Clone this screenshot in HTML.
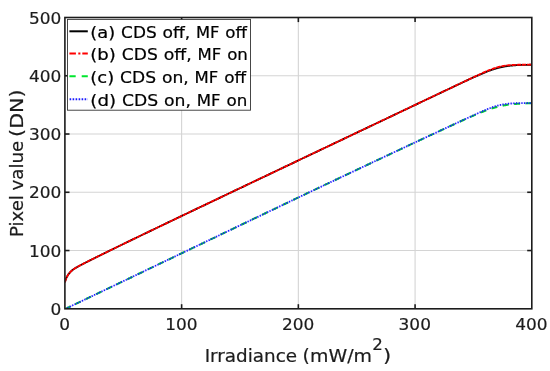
<!DOCTYPE html>
<html><head><meta charset="utf-8"><title>Pixel value vs irradiance</title>
<style>
html,body{margin:0;padding:0;background:#fff;}
body{width:550px;height:371px;overflow:hidden;}
svg{display:block;}
text{font-family:"DejaVu Sans", "Liberation Sans", sans-serif;fill:#1c1c1c;stroke:#1c1c1c;stroke-width:0.2px;}
.tick{font-size:16px;}
.lab{font-size:17.6px;}
.leg{font-size:15.2px;fill:#000;stroke:#000;}
</style></head><body>
<svg width="550" height="371" viewBox="0 0 550 371">
<rect width="550" height="371" fill="#fff"/>
<g stroke="#d4d4d4" stroke-width="1.1" fill="none"><line x1="181.62" y1="17.5" x2="181.62" y2="308.8"/><line x1="298.35" y1="17.5" x2="298.35" y2="308.8"/><line x1="415.08" y1="17.5" x2="415.08" y2="308.8"/><line x1="64.9" y1="250.54" x2="531.8" y2="250.54"/><line x1="64.9" y1="192.28" x2="531.8" y2="192.28"/><line x1="64.9" y1="134.02" x2="531.8" y2="134.02"/><line x1="64.9" y1="75.76" x2="531.8" y2="75.76"/></g>
<clipPath id="cp"><rect x="64.9" y="17.5" width="466.9" height="291.3"/></clipPath>
<g fill="none" stroke-width="2" stroke-linejoin="round" clip-path="url(#cp)">
<path d="M64.90,282.13 L65.13,281.38 L65.37,280.68 L65.60,280.02 L65.83,279.40 L66.07,278.81 L66.30,278.25 L66.53,277.73 L66.77,277.23 L67.00,276.76 L67.23,276.31 L67.47,275.88 L67.70,275.48 L67.93,275.10 L68.17,274.73 L68.40,274.38 L68.64,274.05 L68.87,273.73 L69.10,273.42 L69.34,273.13 L69.57,272.85 L69.80,272.58 L70.04,272.32 L70.27,272.08 L70.50,271.84 L70.74,271.60 L70.97,271.38 L71.20,271.16 L71.44,270.95 L71.67,270.75 L71.90,270.55 L72.14,270.36 L72.37,270.17 L72.60,269.99 L72.84,269.81 L73.07,269.64 L73.30,269.47 L73.54,269.30 L73.77,269.14 L74.00,268.98 L74.24,268.82 L74.47,268.67 L74.70,268.51 L74.94,268.36 L75.17,268.22 L75.41,268.07 L75.64,267.93 L75.87,267.78 L76.11,267.64 L76.34,267.51 L76.57,267.37 L76.81,267.23 L77.04,267.10 L77.27,266.96 L77.51,266.83 L77.74,266.70 L77.97,266.57 L78.21,266.44 L78.44,266.31 L78.67,266.18 L78.91,266.06 L79.14,265.93 L79.37,265.80 L79.61,265.68 L79.84,265.55 L80.07,265.43 L80.31,265.31 L80.54,265.18 L80.77,265.06 L81.01,264.94 L81.24,264.82 L81.47,264.69 L81.71,264.57 L81.94,264.45 L82.18,264.33 L82.41,264.21 L82.64,264.09 L82.88,263.97 L83.11,263.85 L83.34,263.73 L83.58,263.61 L83.81,263.49 L84.04,263.37 L84.28,263.25 L84.51,263.13 L84.74,263.01 L84.98,262.90 L85.21,262.78 L85.44,262.66 L85.68,262.54 L85.91,262.42 L86.14,262.31 L86.38,262.19 L86.61,262.07 L86.84,261.95 L87.08,261.84 L87.31,261.72 L87.54,261.60 L87.78,261.48 L88.01,261.37 L88.25,261.25 L88.48,261.13 L88.71,261.01 L88.95,260.90 L89.18,260.78 L89.41,260.66 L89.65,260.55 L89.88,260.43 L90.11,260.31 L90.35,260.20 L90.58,260.08 L90.81,259.96 L91.05,259.85 L91.28,259.73 L91.51,259.62 L91.75,259.50 L91.98,259.38 L92.21,259.27 L92.45,259.15 L92.68,259.03 L92.91,258.92 L93.15,258.80 L93.38,258.69 L93.61,258.57 L93.85,258.45 L94.08,258.34 L94.31,258.22 L94.55,258.11 L94.78,257.99 L95.02,257.88 L95.25,257.76 L95.48,257.64 L95.72,257.53 L95.95,257.41 L96.18,257.30 L96.42,257.18 L96.65,257.07 L96.88,256.95 L97.12,256.83 L97.35,256.72 L97.58,256.60 L97.82,256.49 L98.05,256.37 L98.28,256.26 L98.52,256.14 L98.75,256.03 L98.98,255.91 L99.22,255.80 L99.45,255.68 L99.68,255.57 L99.92,255.45 L100.15,255.34 L100.38,255.22 L100.62,255.10 L100.85,254.99 L101.08,254.87 L101.32,254.76 L101.55,254.64 L101.79,254.53 L102.02,254.41 L102.25,254.30 L102.49,254.18 L102.72,254.07 L102.95,253.96 L103.19,253.84 L103.42,253.73 L103.65,253.61 L103.89,253.50 L104.12,253.38 L104.35,253.27 L104.59,253.15 L104.82,253.04 L105.05,252.92 L105.29,252.81 L105.52,252.69 L105.75,252.58 L105.99,252.46 L106.22,252.35 L106.45,252.23 L106.69,252.12 L106.92,252.01 L107.15,251.89 L107.39,251.78 L107.62,251.66 L107.85,251.55 L108.09,251.43 L108.32,251.32 L108.56,251.20 L108.79,251.09 L109.02,250.98 L109.26,250.86 L109.49,250.75 L109.72,250.63 L109.96,250.52 L110.19,250.40 L110.42,250.29 L110.66,250.18 L110.89,250.06 L111.12,249.95 L111.36,249.83 L111.59,249.72 L112.17,249.43 L115.70,247.71 L119.24,245.99 L122.77,244.28 L126.30,242.56 L129.83,240.85 L133.36,239.14 L136.89,237.44 L140.42,235.74 L143.95,234.04 L147.49,232.34 L151.02,230.64 L154.55,228.94 L158.08,227.25 L161.61,225.56 L165.14,223.87 L168.67,222.18 L172.20,220.49 L175.74,218.80 L179.27,217.11 L182.80,215.42 L186.33,213.74 L189.86,212.05 L193.39,210.37 L196.92,208.68 L200.45,207.00 L203.99,205.32 L207.52,203.63 L211.05,201.95 L214.58,200.27 L218.11,198.59 L221.64,196.91 L225.17,195.23 L228.70,193.55 L232.24,191.86 L235.77,190.18 L239.30,188.50 L242.83,186.82 L246.36,185.14 L249.89,183.47 L253.42,181.79 L256.95,180.11 L260.49,178.43 L264.02,176.75 L267.55,175.07 L271.08,173.39 L274.61,171.71 L278.14,170.03 L281.67,168.35 L285.20,166.68 L288.73,165.00 L292.27,163.32 L295.80,161.64 L299.33,159.96 L302.86,158.28 L306.39,156.60 L309.92,154.93 L313.45,153.25 L316.98,151.57 L320.52,149.89 L324.05,148.21 L327.58,146.54 L331.11,144.86 L334.64,143.18 L338.17,141.50 L341.70,139.82 L345.23,138.14 L348.77,136.47 L352.30,134.79 L355.83,133.11 L359.36,131.43 L362.89,129.75 L366.42,128.08 L369.95,126.40 L373.48,124.72 L377.02,123.04 L380.55,121.36 L384.08,119.69 L387.61,118.01 L391.14,116.33 L394.67,114.65 L398.20,112.97 L401.73,111.30 L405.27,109.62 L408.80,107.94 L412.33,106.26 L415.86,104.58 L419.39,102.91 L422.92,101.23 L426.45,99.55 L429.98,97.87 L433.52,96.20 L437.05,94.52 L440.58,92.84 L444.11,91.17 L447.64,89.49 L451.17,87.82 L454.70,86.15 L458.23,84.48 L461.76,82.82 L462.35,82.55 L462.93,82.27 L463.52,82.00 L464.10,81.72 L464.68,81.45 L465.27,81.18 L465.85,80.91 L466.43,80.63 L467.02,80.36 L467.60,80.09 L468.18,79.82 L468.77,79.55 L469.35,79.28 L469.94,79.01 L470.52,78.74 L471.10,78.47 L471.69,78.21 L472.27,77.94 L472.85,77.67 L473.44,77.41 L474.02,77.14 L474.60,76.88 L475.19,76.62 L475.77,76.35 L476.36,76.09 L476.94,75.83 L477.52,75.57 L478.11,75.32 L478.69,75.06 L479.27,74.80 L479.86,74.55 L480.44,74.30 L481.02,74.05 L481.61,73.80 L482.19,73.55 L482.78,73.31 L483.36,73.06 L483.94,72.82 L484.53,72.58 L485.11,72.35 L485.69,72.11 L486.28,71.88 L486.86,71.65 L487.44,71.43 L488.03,71.20 L488.61,70.98 L489.20,70.77 L489.78,70.55 L490.36,70.34 L490.95,70.13 L491.53,69.93 L492.11,69.73 L492.70,69.54 L493.28,69.34 L493.86,69.16 L494.45,68.97 L495.03,68.79 L495.62,68.62 L496.20,68.45 L496.78,68.28 L497.37,68.12 L497.95,67.96 L498.53,67.81 L499.12,67.66 L499.70,67.52 L500.28,67.38 L500.87,67.25 L501.45,67.12 L502.04,67.00 L502.62,66.88 L503.20,66.76 L503.79,66.65 L504.37,66.55 L504.95,66.45 L505.54,66.35 L506.12,66.26 L506.70,66.17 L507.29,66.08 L507.87,66.00 L508.46,65.92 L509.04,65.85 L509.62,65.78 L510.21,65.72 L510.79,65.65 L511.37,65.59 L511.96,65.54 L512.54,65.48 L513.12,65.43 L513.71,65.39 L514.29,65.34 L514.87,65.30 L515.46,65.26 L516.04,65.22 L516.63,65.19 L517.21,65.15 L517.79,65.12 L518.38,65.09 L518.96,65.06 L519.54,65.04 L520.13,65.01 L520.71,64.99 L521.29,64.97 L521.88,64.95 L522.46,64.93 L523.05,64.91 L523.63,64.89 L524.21,64.87 L524.80,64.86 L525.38,64.85 L525.96,64.83 L526.55,64.82 L527.13,64.81 L527.71,64.80 L528.30,64.79 L528.88,64.78 L529.47,64.77 L530.05,64.76 L530.63,64.75 L531.22,64.75 L531.80,64.74" stroke="#000" stroke-width="1.8"/>
<path d="M64.90,282.13 L65.13,281.38 L65.37,280.68 L65.60,280.02 L65.83,279.40 L66.07,278.81 L66.30,278.25 L66.53,277.73 L66.77,277.23 L67.00,276.76 L67.23,276.31 L67.47,275.88 L67.70,275.48 L67.93,275.10 L68.17,274.73 L68.40,274.38 L68.64,274.05 L68.87,273.73 L69.10,273.42 L69.34,273.13 L69.57,272.85 L69.80,272.58 L70.04,272.32 L70.27,272.08 L70.50,271.84 L70.74,271.60 L70.97,271.38 L71.20,271.16 L71.44,270.95 L71.67,270.75 L71.90,270.55 L72.14,270.36 L72.37,270.17 L72.60,269.99 L72.84,269.81 L73.07,269.64 L73.30,269.47 L73.54,269.30 L73.77,269.14 L74.00,268.98 L74.24,268.82 L74.47,268.67 L74.70,268.51 L74.94,268.36 L75.17,268.22 L75.41,268.07 L75.64,267.93 L75.87,267.78 L76.11,267.64 L76.34,267.51 L76.57,267.37 L76.81,267.23 L77.04,267.10 L77.27,266.96 L77.51,266.83 L77.74,266.70 L77.97,266.57 L78.21,266.44 L78.44,266.31 L78.67,266.18 L78.91,266.06 L79.14,265.93 L79.37,265.80 L79.61,265.68 L79.84,265.55 L80.07,265.43 L80.31,265.31 L80.54,265.18 L80.77,265.06 L81.01,264.94 L81.24,264.82 L81.47,264.69 L81.71,264.57 L81.94,264.45 L82.18,264.33 L82.41,264.21 L82.64,264.09 L82.88,263.97 L83.11,263.85 L83.34,263.73 L83.58,263.61 L83.81,263.49 L84.04,263.37 L84.28,263.25 L84.51,263.13 L84.74,263.01 L84.98,262.90 L85.21,262.78 L85.44,262.66 L85.68,262.54 L85.91,262.42 L86.14,262.31 L86.38,262.19 L86.61,262.07 L86.84,261.95 L87.08,261.84 L87.31,261.72 L87.54,261.60 L87.78,261.48 L88.01,261.37 L88.25,261.25 L88.48,261.13 L88.71,261.01 L88.95,260.90 L89.18,260.78 L89.41,260.66 L89.65,260.55 L89.88,260.43 L90.11,260.31 L90.35,260.20 L90.58,260.08 L90.81,259.96 L91.05,259.85 L91.28,259.73 L91.51,259.62 L91.75,259.50 L91.98,259.38 L92.21,259.27 L92.45,259.15 L92.68,259.03 L92.91,258.92 L93.15,258.80 L93.38,258.69 L93.61,258.57 L93.85,258.45 L94.08,258.34 L94.31,258.22 L94.55,258.11 L94.78,257.99 L95.02,257.88 L95.25,257.76 L95.48,257.64 L95.72,257.53 L95.95,257.41 L96.18,257.30 L96.42,257.18 L96.65,257.07 L96.88,256.95 L97.12,256.83 L97.35,256.72 L97.58,256.60 L97.82,256.49 L98.05,256.37 L98.28,256.26 L98.52,256.14 L98.75,256.03 L98.98,255.91 L99.22,255.80 L99.45,255.68 L99.68,255.57 L99.92,255.45 L100.15,255.34 L100.38,255.22 L100.62,255.10 L100.85,254.99 L101.08,254.87 L101.32,254.76 L101.55,254.64 L101.79,254.53 L102.02,254.41 L102.25,254.30 L102.49,254.18 L102.72,254.07 L102.95,253.96 L103.19,253.84 L103.42,253.73 L103.65,253.61 L103.89,253.50 L104.12,253.38 L104.35,253.27 L104.59,253.15 L104.82,253.04 L105.05,252.92 L105.29,252.81 L105.52,252.69 L105.75,252.58 L105.99,252.46 L106.22,252.35 L106.45,252.23 L106.69,252.12 L106.92,252.01 L107.15,251.89 L107.39,251.78 L107.62,251.66 L107.85,251.55 L108.09,251.43 L108.32,251.32 L108.56,251.20 L108.79,251.09 L109.02,250.98 L109.26,250.86 L109.49,250.75 L109.72,250.63 L109.96,250.52 L110.19,250.40 L110.42,250.29 L110.66,250.18 L110.89,250.06 L111.12,249.95 L111.36,249.83 L111.59,249.72 L112.17,249.43 L115.70,247.71 L119.24,245.99 L122.77,244.28 L126.30,242.56 L129.83,240.85 L133.36,239.14 L136.89,237.44 L140.42,235.74 L143.95,234.04 L147.49,232.34 L151.02,230.64 L154.55,228.94 L158.08,227.25 L161.61,225.56 L165.14,223.87 L168.67,222.18 L172.20,220.49 L175.74,218.80 L179.27,217.11 L182.80,215.42 L186.33,213.74 L189.86,212.05 L193.39,210.37 L196.92,208.68 L200.45,207.00 L203.99,205.32 L207.52,203.63 L211.05,201.95 L214.58,200.27 L218.11,198.59 L221.64,196.91 L225.17,195.23 L228.70,193.55 L232.24,191.86 L235.77,190.18 L239.30,188.50 L242.83,186.82 L246.36,185.14 L249.89,183.47 L253.42,181.79 L256.95,180.11 L260.49,178.43 L264.02,176.75 L267.55,175.07 L271.08,173.39 L274.61,171.71 L278.14,170.03 L281.67,168.35 L285.20,166.68 L288.73,165.00 L292.27,163.32 L295.80,161.64 L299.33,159.96 L302.86,158.28 L306.39,156.60 L309.92,154.93 L313.45,153.25 L316.98,151.57 L320.52,149.89 L324.05,148.21 L327.58,146.54 L331.11,144.86 L334.64,143.18 L338.17,141.50 L341.70,139.82 L345.23,138.14 L348.77,136.47 L352.30,134.79 L355.83,133.11 L359.36,131.43 L362.89,129.75 L366.42,128.08 L369.95,126.40 L373.48,124.72 L377.02,123.04 L380.55,121.36 L384.08,119.69 L387.61,118.01 L391.14,116.33 L394.67,114.65 L398.20,112.97 L401.73,111.30 L405.27,109.62 L408.80,107.94 L412.33,106.26 L415.86,104.58 L419.39,102.91 L422.92,101.23 L426.45,99.55 L429.98,97.87 L433.52,96.20 L437.05,94.52 L440.58,92.84 L444.11,91.16 L447.64,89.48 L451.17,87.81 L454.70,86.13 L458.23,84.45 L461.76,82.78 L462.35,82.50 L462.93,82.22 L463.52,81.95 L464.10,81.67 L464.68,81.39 L465.27,81.12 L465.85,80.84 L466.43,80.57 L467.02,80.29 L467.60,80.01 L468.18,79.74 L468.77,79.46 L469.35,79.19 L469.94,78.91 L470.52,78.64 L471.10,78.36 L471.69,78.09 L472.27,77.81 L472.85,77.54 L473.44,77.26 L474.02,76.99 L474.60,76.72 L475.19,76.44 L475.77,76.17 L476.36,75.90 L476.94,75.63 L477.52,75.36 L478.11,75.09 L478.69,74.82 L479.27,74.55 L479.86,74.28 L480.44,74.02 L481.02,73.75 L481.61,73.49 L482.19,73.22 L482.78,72.96 L483.36,72.70 L483.94,72.44 L484.53,72.18 L485.11,71.93 L485.69,71.67 L486.28,71.42 L486.86,71.17 L487.44,70.93 L488.03,70.68 L488.61,70.44 L489.20,70.20 L489.78,69.97 L490.36,69.74 L490.95,69.51 L491.53,69.29 L492.11,69.07 L492.70,68.86 L493.28,68.65 L493.86,68.44 L494.45,68.24 L495.03,68.05 L495.62,67.86 L496.20,67.68 L496.78,67.50 L497.37,67.33 L497.95,67.17 L498.53,67.01 L499.12,66.86 L499.70,66.71 L500.28,66.58 L500.87,66.44 L501.45,66.32 L502.04,66.20 L502.62,66.09 L503.20,65.98 L503.79,65.88 L504.37,65.79 L504.95,65.70 L505.54,65.62 L506.12,65.54 L506.70,65.47 L507.29,65.41 L507.87,65.35 L508.46,65.29 L509.04,65.23 L509.62,65.19 L510.21,65.14 L510.79,65.10 L511.37,65.06 L511.96,65.02 L512.54,64.99 L513.12,64.96 L513.71,64.93 L514.29,64.91 L514.87,64.88 L515.46,64.86 L516.04,64.84 L516.63,64.83 L517.21,64.81 L517.79,64.79 L518.38,64.78 L518.96,64.77 L519.54,64.76 L520.13,64.75 L520.71,64.74 L521.29,64.73 L521.88,64.72 L522.46,64.71 L523.05,64.71 L523.63,64.70 L524.21,64.70 L524.80,64.69 L525.38,64.69 L525.96,64.68 L526.55,64.68 L527.13,64.68 L527.71,64.67 L528.30,64.67 L528.88,64.67 L529.47,64.66 L530.05,64.66 L530.63,64.66 L531.22,64.66 L531.80,64.66" stroke="#f00" stroke-dasharray="4.3 0.8" stroke-width="1.85"/>
<path d="M64.90,309.10 L65.13,308.99 L65.37,308.88 L65.60,308.77 L65.83,308.65 L66.07,308.54 L66.30,308.43 L66.53,308.32 L66.77,308.21 L67.00,308.10 L67.23,307.98 L67.47,307.87 L67.70,307.76 L67.93,307.65 L68.17,307.54 L68.40,307.43 L68.64,307.31 L68.87,307.20 L69.10,307.09 L69.34,306.98 L69.57,306.87 L69.80,306.76 L70.04,306.64 L70.27,306.53 L70.50,306.42 L70.74,306.31 L70.97,306.20 L71.20,306.09 L71.44,305.97 L71.67,305.86 L71.90,305.75 L72.14,305.64 L72.37,305.53 L72.60,305.42 L72.84,305.30 L73.07,305.19 L73.30,305.08 L73.54,304.97 L73.77,304.86 L74.00,304.75 L74.24,304.63 L74.47,304.52 L74.70,304.41 L74.94,304.30 L75.17,304.19 L75.41,304.08 L75.64,303.97 L75.87,303.85 L76.11,303.74 L76.34,303.63 L76.57,303.52 L76.81,303.41 L77.04,303.30 L77.27,303.18 L77.51,303.07 L77.74,302.96 L77.97,302.85 L78.21,302.74 L78.44,302.63 L78.67,302.51 L78.91,302.40 L79.14,302.29 L79.37,302.18 L79.61,302.07 L79.84,301.96 L80.07,301.84 L80.31,301.73 L80.54,301.62 L80.77,301.51 L81.01,301.40 L81.24,301.29 L81.47,301.17 L81.71,301.06 L81.94,300.95 L82.18,300.84 L82.41,300.73 L82.64,300.62 L82.88,300.50 L83.11,300.39 L83.34,300.28 L83.58,300.17 L83.81,300.06 L84.04,299.95 L84.28,299.84 L84.51,299.72 L84.74,299.61 L84.98,299.50 L85.21,299.39 L85.44,299.28 L85.68,299.17 L85.91,299.05 L86.14,298.94 L86.38,298.83 L86.61,298.72 L86.84,298.61 L87.08,298.50 L87.31,298.38 L87.54,298.27 L87.78,298.16 L88.01,298.05 L88.25,297.94 L88.48,297.83 L88.71,297.71 L88.95,297.60 L89.18,297.49 L89.41,297.38 L89.65,297.27 L89.88,297.16 L90.11,297.04 L90.35,296.93 L90.58,296.82 L90.81,296.71 L91.05,296.60 L91.28,296.49 L91.51,296.37 L91.75,296.26 L91.98,296.15 L92.21,296.04 L92.45,295.93 L92.68,295.82 L92.91,295.70 L93.15,295.59 L93.38,295.48 L93.61,295.37 L93.85,295.26 L94.08,295.15 L94.31,295.04 L94.55,294.92 L94.78,294.81 L95.02,294.70 L95.25,294.59 L95.48,294.48 L95.72,294.37 L95.95,294.25 L96.18,294.14 L96.42,294.03 L96.65,293.92 L96.88,293.81 L97.12,293.70 L97.35,293.58 L97.58,293.47 L97.82,293.36 L98.05,293.25 L98.28,293.14 L98.52,293.03 L98.75,292.91 L98.98,292.80 L99.22,292.69 L99.45,292.58 L99.68,292.47 L99.92,292.36 L100.15,292.24 L100.38,292.13 L100.62,292.02 L100.85,291.91 L101.08,291.80 L101.32,291.69 L101.55,291.57 L101.79,291.46 L102.02,291.35 L102.25,291.24 L102.49,291.13 L102.72,291.02 L102.95,290.90 L103.19,290.79 L103.42,290.68 L103.65,290.57 L103.89,290.46 L104.12,290.35 L104.35,290.24 L104.59,290.12 L104.82,290.01 L105.05,289.90 L105.29,289.79 L105.52,289.68 L105.75,289.57 L105.99,289.45 L106.22,289.34 L106.45,289.23 L106.69,289.12 L106.92,289.01 L107.15,288.90 L107.39,288.78 L107.62,288.67 L107.85,288.56 L108.09,288.45 L108.32,288.34 L108.56,288.23 L108.79,288.11 L109.02,288.00 L109.26,287.89 L109.49,287.78 L109.72,287.67 L109.96,287.56 L110.19,287.44 L110.42,287.33 L110.66,287.22 L110.89,287.11 L111.12,287.00 L111.36,286.89 L111.59,286.77 L112.17,286.50 L115.70,284.81 L119.24,283.12 L122.77,281.43 L126.30,279.74 L129.83,278.05 L133.36,276.36 L136.89,274.68 L140.42,272.99 L143.95,271.30 L147.49,269.61 L151.02,267.92 L154.55,266.23 L158.08,264.55 L161.61,262.86 L165.14,261.17 L168.67,259.48 L172.20,257.79 L175.74,256.10 L179.27,254.41 L182.80,252.73 L186.33,251.04 L189.86,249.35 L193.39,247.66 L196.92,245.97 L200.45,244.28 L203.99,242.60 L207.52,240.91 L211.05,239.22 L214.58,237.53 L218.11,235.84 L221.64,234.15 L225.17,232.46 L228.70,230.78 L232.24,229.09 L235.77,227.40 L239.30,225.71 L242.83,224.02 L246.36,222.33 L249.89,220.64 L253.42,218.96 L256.95,217.27 L260.49,215.58 L264.02,213.89 L267.55,212.20 L271.08,210.51 L274.61,208.83 L278.14,207.14 L281.67,205.45 L285.20,203.76 L288.73,202.08 L292.27,200.39 L295.80,198.71 L299.33,197.03 L302.86,195.35 L306.39,193.67 L309.92,191.99 L313.45,190.31 L316.98,188.63 L320.52,186.95 L324.05,185.28 L327.58,183.60 L331.11,181.93 L334.64,180.26 L338.17,178.59 L341.70,176.92 L345.23,175.25 L348.77,173.58 L352.30,171.91 L355.83,170.24 L359.36,168.58 L362.89,166.91 L366.42,165.25 L369.95,163.58 L373.48,161.92 L377.02,160.26 L380.55,158.60 L384.08,156.94 L387.61,155.28 L391.14,153.62 L394.67,151.97 L398.20,150.31 L401.73,148.66 L405.27,147.00 L408.80,145.35 L412.33,143.70 L415.86,142.05 L419.39,140.40 L422.92,138.75 L426.45,137.11 L429.98,135.46 L433.52,133.82 L437.05,132.17 L440.58,130.53 L444.11,128.90 L447.64,127.26 L451.17,125.63 L454.70,124.01 L458.23,122.39 L461.76,120.78 L462.35,120.52 L462.93,120.25 L463.52,119.99 L464.10,119.73 L464.68,119.46 L465.27,119.20 L465.85,118.94 L466.43,118.68 L467.02,118.42 L467.60,118.16 L468.18,117.90 L468.77,117.64 L469.35,117.38 L469.94,117.12 L470.52,116.87 L471.10,116.61 L471.69,116.36 L472.27,116.10 L472.85,115.85 L473.44,115.60 L474.02,115.34 L474.60,115.09 L475.19,114.84 L475.77,114.60 L476.36,114.35 L476.94,114.10 L477.52,113.86 L478.11,113.62 L478.69,113.38 L479.27,113.14 L479.86,112.90 L480.44,112.66 L481.02,112.43 L481.61,112.19 L482.19,111.96 L482.78,111.73 L483.36,111.51 L483.94,111.28 L484.53,111.06 L485.11,110.84 L485.69,110.62 L486.28,110.41 L486.86,110.19 L487.44,109.98 L488.03,109.78 L488.61,109.57 L489.20,109.37 L489.78,109.17 L490.36,108.97 L490.95,108.78 L491.53,108.59 L492.11,108.41 L492.70,108.22 L493.28,108.05 L493.86,107.87 L494.45,107.70 L495.03,107.53 L495.62,107.36 L496.20,107.20 L496.78,107.05 L497.37,106.89 L497.95,106.74 L498.53,106.60 L499.12,106.46 L499.70,106.32 L500.28,106.18 L500.87,106.05 L501.45,105.93 L502.04,105.80 L502.62,105.69 L503.20,105.57 L503.79,105.46 L504.37,105.35 L504.95,105.25 L505.54,105.15 L506.12,105.05 L506.70,104.96 L507.29,104.87 L507.87,104.79 L508.46,104.70 L509.04,104.62 L509.62,104.55 L510.21,104.48 L510.79,104.41 L511.37,104.34 L511.96,104.27 L512.54,104.21 L513.12,104.15 L513.71,104.10 L514.29,104.04 L514.87,103.99 L515.46,103.94 L516.04,103.90 L516.63,103.85 L517.21,103.81 L517.79,103.77 L518.38,103.73 L518.96,103.70 L519.54,103.66 L520.13,103.63 L520.71,103.60 L521.29,103.57 L521.88,103.54 L522.46,103.51 L523.05,103.49 L523.63,103.46 L524.21,103.44 L524.80,103.42 L525.38,103.40 L525.96,103.38 L526.55,103.36 L527.13,103.34 L527.71,103.33 L528.30,103.31 L528.88,103.29 L529.47,103.28 L530.05,103.27 L530.63,103.25 L531.22,103.24 L531.80,103.23" stroke="#00d030" stroke-dasharray="6 5.5" stroke-width="2"/>
<path d="M64.90,309.10 L65.13,308.99 L65.37,308.88 L65.60,308.77 L65.83,308.65 L66.07,308.54 L66.30,308.43 L66.53,308.32 L66.77,308.21 L67.00,308.10 L67.23,307.98 L67.47,307.87 L67.70,307.76 L67.93,307.65 L68.17,307.54 L68.40,307.43 L68.64,307.31 L68.87,307.20 L69.10,307.09 L69.34,306.98 L69.57,306.87 L69.80,306.76 L70.04,306.64 L70.27,306.53 L70.50,306.42 L70.74,306.31 L70.97,306.20 L71.20,306.09 L71.44,305.97 L71.67,305.86 L71.90,305.75 L72.14,305.64 L72.37,305.53 L72.60,305.42 L72.84,305.30 L73.07,305.19 L73.30,305.08 L73.54,304.97 L73.77,304.86 L74.00,304.75 L74.24,304.63 L74.47,304.52 L74.70,304.41 L74.94,304.30 L75.17,304.19 L75.41,304.08 L75.64,303.97 L75.87,303.85 L76.11,303.74 L76.34,303.63 L76.57,303.52 L76.81,303.41 L77.04,303.30 L77.27,303.18 L77.51,303.07 L77.74,302.96 L77.97,302.85 L78.21,302.74 L78.44,302.63 L78.67,302.51 L78.91,302.40 L79.14,302.29 L79.37,302.18 L79.61,302.07 L79.84,301.96 L80.07,301.84 L80.31,301.73 L80.54,301.62 L80.77,301.51 L81.01,301.40 L81.24,301.29 L81.47,301.17 L81.71,301.06 L81.94,300.95 L82.18,300.84 L82.41,300.73 L82.64,300.62 L82.88,300.50 L83.11,300.39 L83.34,300.28 L83.58,300.17 L83.81,300.06 L84.04,299.95 L84.28,299.84 L84.51,299.72 L84.74,299.61 L84.98,299.50 L85.21,299.39 L85.44,299.28 L85.68,299.17 L85.91,299.05 L86.14,298.94 L86.38,298.83 L86.61,298.72 L86.84,298.61 L87.08,298.50 L87.31,298.38 L87.54,298.27 L87.78,298.16 L88.01,298.05 L88.25,297.94 L88.48,297.83 L88.71,297.71 L88.95,297.60 L89.18,297.49 L89.41,297.38 L89.65,297.27 L89.88,297.16 L90.11,297.04 L90.35,296.93 L90.58,296.82 L90.81,296.71 L91.05,296.60 L91.28,296.49 L91.51,296.37 L91.75,296.26 L91.98,296.15 L92.21,296.04 L92.45,295.93 L92.68,295.82 L92.91,295.70 L93.15,295.59 L93.38,295.48 L93.61,295.37 L93.85,295.26 L94.08,295.15 L94.31,295.04 L94.55,294.92 L94.78,294.81 L95.02,294.70 L95.25,294.59 L95.48,294.48 L95.72,294.37 L95.95,294.25 L96.18,294.14 L96.42,294.03 L96.65,293.92 L96.88,293.81 L97.12,293.70 L97.35,293.58 L97.58,293.47 L97.82,293.36 L98.05,293.25 L98.28,293.14 L98.52,293.03 L98.75,292.91 L98.98,292.80 L99.22,292.69 L99.45,292.58 L99.68,292.47 L99.92,292.36 L100.15,292.24 L100.38,292.13 L100.62,292.02 L100.85,291.91 L101.08,291.80 L101.32,291.69 L101.55,291.57 L101.79,291.46 L102.02,291.35 L102.25,291.24 L102.49,291.13 L102.72,291.02 L102.95,290.90 L103.19,290.79 L103.42,290.68 L103.65,290.57 L103.89,290.46 L104.12,290.35 L104.35,290.24 L104.59,290.12 L104.82,290.01 L105.05,289.90 L105.29,289.79 L105.52,289.68 L105.75,289.57 L105.99,289.45 L106.22,289.34 L106.45,289.23 L106.69,289.12 L106.92,289.01 L107.15,288.90 L107.39,288.78 L107.62,288.67 L107.85,288.56 L108.09,288.45 L108.32,288.34 L108.56,288.23 L108.79,288.11 L109.02,288.00 L109.26,287.89 L109.49,287.78 L109.72,287.67 L109.96,287.56 L110.19,287.44 L110.42,287.33 L110.66,287.22 L110.89,287.11 L111.12,287.00 L111.36,286.89 L111.59,286.77 L112.17,286.50 L115.70,284.81 L119.24,283.12 L122.77,281.43 L126.30,279.74 L129.83,278.05 L133.36,276.36 L136.89,274.68 L140.42,272.99 L143.95,271.30 L147.49,269.61 L151.02,267.92 L154.55,266.23 L158.08,264.55 L161.61,262.86 L165.14,261.17 L168.67,259.48 L172.20,257.79 L175.74,256.10 L179.27,254.41 L182.80,252.73 L186.33,251.04 L189.86,249.35 L193.39,247.66 L196.92,245.97 L200.45,244.28 L203.99,242.60 L207.52,240.91 L211.05,239.22 L214.58,237.53 L218.11,235.84 L221.64,234.15 L225.17,232.46 L228.70,230.78 L232.24,229.09 L235.77,227.40 L239.30,225.71 L242.83,224.02 L246.36,222.33 L249.89,220.64 L253.42,218.96 L256.95,217.27 L260.49,215.58 L264.02,213.89 L267.55,212.20 L271.08,210.51 L274.61,208.83 L278.14,207.14 L281.67,205.45 L285.20,203.76 L288.73,202.08 L292.27,200.39 L295.80,198.71 L299.33,197.03 L302.86,195.35 L306.39,193.67 L309.92,191.99 L313.45,190.31 L316.98,188.63 L320.52,186.95 L324.05,185.28 L327.58,183.60 L331.11,181.93 L334.64,180.26 L338.17,178.59 L341.70,176.92 L345.23,175.25 L348.77,173.58 L352.30,171.91 L355.83,170.24 L359.36,168.58 L362.89,166.91 L366.42,165.25 L369.95,163.58 L373.48,161.92 L377.02,160.26 L380.55,158.60 L384.08,156.94 L387.61,155.28 L391.14,153.62 L394.67,151.97 L398.20,150.31 L401.73,148.66 L405.27,147.00 L408.80,145.35 L412.33,143.70 L415.86,142.05 L419.39,140.40 L422.92,138.75 L426.45,137.10 L429.98,135.46 L433.52,133.81 L437.05,132.17 L440.58,130.52 L444.11,128.88 L447.64,127.24 L451.17,125.60 L454.70,123.96 L458.23,122.32 L461.76,120.68 L462.35,120.41 L462.93,120.14 L463.52,119.87 L464.10,119.61 L464.68,119.34 L465.27,119.07 L465.85,118.80 L466.43,118.53 L467.02,118.26 L467.60,117.99 L468.18,117.72 L468.77,117.45 L469.35,117.18 L469.94,116.92 L470.52,116.65 L471.10,116.38 L471.69,116.11 L472.27,115.85 L472.85,115.58 L473.44,115.31 L474.02,115.05 L474.60,114.78 L475.19,114.52 L475.77,114.25 L476.36,113.99 L476.94,113.72 L477.52,113.46 L478.11,113.20 L478.69,112.94 L479.27,112.68 L479.86,112.42 L480.44,112.16 L481.02,111.90 L481.61,111.65 L482.19,111.39 L482.78,111.14 L483.36,110.88 L483.94,110.63 L484.53,110.38 L485.11,110.14 L485.69,109.89 L486.28,109.65 L486.86,109.41 L487.44,109.17 L488.03,108.94 L488.61,108.70 L489.20,108.47 L489.78,108.25 L490.36,108.03 L490.95,107.81 L491.53,107.59 L492.11,107.38 L492.70,107.17 L493.28,106.97 L493.86,106.77 L494.45,106.58 L495.03,106.40 L495.62,106.21 L496.20,106.04 L496.78,105.87 L497.37,105.70 L497.95,105.55 L498.53,105.39 L499.12,105.25 L499.70,105.11 L500.28,104.97 L500.87,104.85 L501.45,104.72 L502.04,104.61 L502.62,104.50 L503.20,104.40 L503.79,104.30 L504.37,104.21 L504.95,104.12 L505.54,104.04 L506.12,103.96 L506.70,103.89 L507.29,103.83 L507.87,103.76 L508.46,103.71 L509.04,103.65 L509.62,103.60 L510.21,103.56 L510.79,103.52 L511.37,103.48 L511.96,103.44 L512.54,103.41 L513.12,103.38 L513.71,103.35 L514.29,103.32 L514.87,103.30 L515.46,103.27 L516.04,103.25 L516.63,103.24 L517.21,103.22 L517.79,103.20 L518.38,103.19 L518.96,103.18 L519.54,103.16 L520.13,103.15 L520.71,103.14 L521.29,103.13 L521.88,103.12 L522.46,103.12 L523.05,103.11 L523.63,103.10 L524.21,103.10 L524.80,103.09 L525.38,103.09 L525.96,103.08 L526.55,103.08 L527.13,103.07 L527.71,103.07 L528.30,103.07 L528.88,103.06 L529.47,103.06 L530.05,103.06 L530.63,103.06 L531.22,103.06 L531.80,103.05" stroke="#2020ff" stroke-width="1.5" stroke-opacity="0.18"/>
<path d="M64.90,309.10 L65.13,308.99 L65.37,308.88 L65.60,308.77 L65.83,308.65 L66.07,308.54 L66.30,308.43 L66.53,308.32 L66.77,308.21 L67.00,308.10 L67.23,307.98 L67.47,307.87 L67.70,307.76 L67.93,307.65 L68.17,307.54 L68.40,307.43 L68.64,307.31 L68.87,307.20 L69.10,307.09 L69.34,306.98 L69.57,306.87 L69.80,306.76 L70.04,306.64 L70.27,306.53 L70.50,306.42 L70.74,306.31 L70.97,306.20 L71.20,306.09 L71.44,305.97 L71.67,305.86 L71.90,305.75 L72.14,305.64 L72.37,305.53 L72.60,305.42 L72.84,305.30 L73.07,305.19 L73.30,305.08 L73.54,304.97 L73.77,304.86 L74.00,304.75 L74.24,304.63 L74.47,304.52 L74.70,304.41 L74.94,304.30 L75.17,304.19 L75.41,304.08 L75.64,303.97 L75.87,303.85 L76.11,303.74 L76.34,303.63 L76.57,303.52 L76.81,303.41 L77.04,303.30 L77.27,303.18 L77.51,303.07 L77.74,302.96 L77.97,302.85 L78.21,302.74 L78.44,302.63 L78.67,302.51 L78.91,302.40 L79.14,302.29 L79.37,302.18 L79.61,302.07 L79.84,301.96 L80.07,301.84 L80.31,301.73 L80.54,301.62 L80.77,301.51 L81.01,301.40 L81.24,301.29 L81.47,301.17 L81.71,301.06 L81.94,300.95 L82.18,300.84 L82.41,300.73 L82.64,300.62 L82.88,300.50 L83.11,300.39 L83.34,300.28 L83.58,300.17 L83.81,300.06 L84.04,299.95 L84.28,299.84 L84.51,299.72 L84.74,299.61 L84.98,299.50 L85.21,299.39 L85.44,299.28 L85.68,299.17 L85.91,299.05 L86.14,298.94 L86.38,298.83 L86.61,298.72 L86.84,298.61 L87.08,298.50 L87.31,298.38 L87.54,298.27 L87.78,298.16 L88.01,298.05 L88.25,297.94 L88.48,297.83 L88.71,297.71 L88.95,297.60 L89.18,297.49 L89.41,297.38 L89.65,297.27 L89.88,297.16 L90.11,297.04 L90.35,296.93 L90.58,296.82 L90.81,296.71 L91.05,296.60 L91.28,296.49 L91.51,296.37 L91.75,296.26 L91.98,296.15 L92.21,296.04 L92.45,295.93 L92.68,295.82 L92.91,295.70 L93.15,295.59 L93.38,295.48 L93.61,295.37 L93.85,295.26 L94.08,295.15 L94.31,295.04 L94.55,294.92 L94.78,294.81 L95.02,294.70 L95.25,294.59 L95.48,294.48 L95.72,294.37 L95.95,294.25 L96.18,294.14 L96.42,294.03 L96.65,293.92 L96.88,293.81 L97.12,293.70 L97.35,293.58 L97.58,293.47 L97.82,293.36 L98.05,293.25 L98.28,293.14 L98.52,293.03 L98.75,292.91 L98.98,292.80 L99.22,292.69 L99.45,292.58 L99.68,292.47 L99.92,292.36 L100.15,292.24 L100.38,292.13 L100.62,292.02 L100.85,291.91 L101.08,291.80 L101.32,291.69 L101.55,291.57 L101.79,291.46 L102.02,291.35 L102.25,291.24 L102.49,291.13 L102.72,291.02 L102.95,290.90 L103.19,290.79 L103.42,290.68 L103.65,290.57 L103.89,290.46 L104.12,290.35 L104.35,290.24 L104.59,290.12 L104.82,290.01 L105.05,289.90 L105.29,289.79 L105.52,289.68 L105.75,289.57 L105.99,289.45 L106.22,289.34 L106.45,289.23 L106.69,289.12 L106.92,289.01 L107.15,288.90 L107.39,288.78 L107.62,288.67 L107.85,288.56 L108.09,288.45 L108.32,288.34 L108.56,288.23 L108.79,288.11 L109.02,288.00 L109.26,287.89 L109.49,287.78 L109.72,287.67 L109.96,287.56 L110.19,287.44 L110.42,287.33 L110.66,287.22 L110.89,287.11 L111.12,287.00 L111.36,286.89 L111.59,286.77 L112.17,286.50 L115.70,284.81 L119.24,283.12 L122.77,281.43 L126.30,279.74 L129.83,278.05 L133.36,276.36 L136.89,274.68 L140.42,272.99 L143.95,271.30 L147.49,269.61 L151.02,267.92 L154.55,266.23 L158.08,264.55 L161.61,262.86 L165.14,261.17 L168.67,259.48 L172.20,257.79 L175.74,256.10 L179.27,254.41 L182.80,252.73 L186.33,251.04 L189.86,249.35 L193.39,247.66 L196.92,245.97 L200.45,244.28 L203.99,242.60 L207.52,240.91 L211.05,239.22 L214.58,237.53 L218.11,235.84 L221.64,234.15 L225.17,232.46 L228.70,230.78 L232.24,229.09 L235.77,227.40 L239.30,225.71 L242.83,224.02 L246.36,222.33 L249.89,220.64 L253.42,218.96 L256.95,217.27 L260.49,215.58 L264.02,213.89 L267.55,212.20 L271.08,210.51 L274.61,208.83 L278.14,207.14 L281.67,205.45 L285.20,203.76 L288.73,202.08 L292.27,200.39 L295.80,198.71 L299.33,197.03 L302.86,195.35 L306.39,193.67 L309.92,191.99 L313.45,190.31 L316.98,188.63 L320.52,186.95 L324.05,185.28 L327.58,183.60 L331.11,181.93 L334.64,180.26 L338.17,178.59 L341.70,176.92 L345.23,175.25 L348.77,173.58 L352.30,171.91 L355.83,170.24 L359.36,168.58 L362.89,166.91 L366.42,165.25 L369.95,163.58 L373.48,161.92 L377.02,160.26 L380.55,158.60 L384.08,156.94 L387.61,155.28 L391.14,153.62 L394.67,151.97 L398.20,150.31 L401.73,148.66 L405.27,147.00 L408.80,145.35 L412.33,143.70 L415.86,142.05 L419.39,140.40 L422.92,138.75 L426.45,137.10 L429.98,135.46 L433.52,133.81 L437.05,132.17 L440.58,130.52 L444.11,128.88 L447.64,127.24 L451.17,125.60 L454.70,123.96 L458.23,122.32 L461.76,120.68 L462.35,120.41 L462.93,120.14 L463.52,119.87 L464.10,119.61 L464.68,119.34 L465.27,119.07 L465.85,118.80 L466.43,118.53 L467.02,118.26 L467.60,117.99 L468.18,117.72 L468.77,117.45 L469.35,117.18 L469.94,116.92 L470.52,116.65 L471.10,116.38 L471.69,116.11 L472.27,115.85 L472.85,115.58 L473.44,115.31 L474.02,115.05 L474.60,114.78 L475.19,114.52 L475.77,114.25 L476.36,113.99 L476.94,113.72 L477.52,113.46 L478.11,113.20 L478.69,112.94 L479.27,112.68 L479.86,112.42 L480.44,112.16 L481.02,111.90 L481.61,111.65 L482.19,111.39 L482.78,111.14 L483.36,110.88 L483.94,110.63 L484.53,110.38 L485.11,110.14 L485.69,109.89 L486.28,109.65 L486.86,109.41 L487.44,109.17 L488.03,108.94 L488.61,108.70 L489.20,108.47 L489.78,108.25 L490.36,108.03 L490.95,107.81 L491.53,107.59 L492.11,107.38 L492.70,107.17 L493.28,106.97 L493.86,106.77 L494.45,106.58 L495.03,106.40 L495.62,106.21 L496.20,106.04 L496.78,105.87 L497.37,105.70 L497.95,105.55 L498.53,105.39 L499.12,105.25 L499.70,105.11 L500.28,104.97 L500.87,104.85 L501.45,104.72 L502.04,104.61 L502.62,104.50 L503.20,104.40 L503.79,104.30 L504.37,104.21 L504.95,104.12 L505.54,104.04 L506.12,103.96 L506.70,103.89 L507.29,103.83 L507.87,103.76 L508.46,103.71 L509.04,103.65 L509.62,103.60 L510.21,103.56 L510.79,103.52 L511.37,103.48 L511.96,103.44 L512.54,103.41 L513.12,103.38 L513.71,103.35 L514.29,103.32 L514.87,103.30 L515.46,103.27 L516.04,103.25 L516.63,103.24 L517.21,103.22 L517.79,103.20 L518.38,103.19 L518.96,103.18 L519.54,103.16 L520.13,103.15 L520.71,103.14 L521.29,103.13 L521.88,103.12 L522.46,103.12 L523.05,103.11 L523.63,103.10 L524.21,103.10 L524.80,103.09 L525.38,103.09 L525.96,103.08 L526.55,103.08 L527.13,103.07 L527.71,103.07 L528.30,103.07 L528.88,103.06 L529.47,103.06 L530.05,103.06 L530.63,103.06 L531.22,103.06 L531.80,103.05" stroke="#1a1aff" stroke-dasharray="1.2 1.5" stroke-width="1.8"/>
</g>
<g stroke="#1c1c1c" stroke-width="1.6" fill="none"><line x1="181.62" y1="308.8" x2="181.62" y2="304.2"/><line x1="181.62" y1="17.5" x2="181.62" y2="22.1"/><line x1="298.35" y1="308.8" x2="298.35" y2="304.2"/><line x1="298.35" y1="17.5" x2="298.35" y2="22.1"/><line x1="415.08" y1="308.8" x2="415.08" y2="304.2"/><line x1="415.08" y1="17.5" x2="415.08" y2="22.1"/><line x1="64.9" y1="250.54" x2="69.5" y2="250.54"/><line x1="531.8" y1="250.54" x2="527.1999999999999" y2="250.54"/><line x1="64.9" y1="192.28" x2="69.5" y2="192.28"/><line x1="531.8" y1="192.28" x2="527.1999999999999" y2="192.28"/><line x1="64.9" y1="134.02" x2="69.5" y2="134.02"/><line x1="531.8" y1="134.02" x2="527.1999999999999" y2="134.02"/><line x1="64.9" y1="75.76" x2="69.5" y2="75.76"/><line x1="531.8" y1="75.76" x2="527.1999999999999" y2="75.76"/><rect x="64.9" y="17.5" width="466.9" height="291.3"/></g>
<text class="tick" x="59.22" y="329.6" textLength="10.77" lengthAdjust="spacingAndGlyphs">0</text><text class="tick" x="165.17" y="329.6" textLength="32.30" lengthAdjust="spacingAndGlyphs">100</text><text class="tick" x="281.90" y="329.6" textLength="32.30" lengthAdjust="spacingAndGlyphs">200</text><text class="tick" x="398.62" y="329.6" textLength="32.30" lengthAdjust="spacingAndGlyphs">300</text><text class="tick" x="515.35" y="329.6" textLength="32.30" lengthAdjust="spacingAndGlyphs">400</text><text class="tick" x="50.63" y="315.00" textLength="10.77" lengthAdjust="spacingAndGlyphs">0</text><text class="tick" x="29.10" y="256.74" textLength="32.30" lengthAdjust="spacingAndGlyphs">100</text><text class="tick" x="29.10" y="198.48" textLength="32.30" lengthAdjust="spacingAndGlyphs">200</text><text class="tick" x="29.10" y="140.22" textLength="32.30" lengthAdjust="spacingAndGlyphs">300</text><text class="tick" x="29.10" y="81.96" textLength="32.30" lengthAdjust="spacingAndGlyphs">400</text><text class="tick" x="29.10" y="23.70" textLength="32.30" lengthAdjust="spacingAndGlyphs">500</text>
<text class="lab"><tspan x="204.70" y="361.50" textLength="92.46" lengthAdjust="spacingAndGlyphs">Irradiance</tspan> <tspan x="302.60" y="361.50" textLength="69.35" lengthAdjust="spacingAndGlyphs">(mW/m</tspan><tspan x="372.2" y="349.6" font-size="15.2px" textLength="10.6" lengthAdjust="spacingAndGlyphs">2</tspan><tspan x="382.9" y="361.5" textLength="8.2" lengthAdjust="spacingAndGlyphs">)</tspan></text>
<text class="lab" transform="translate(22.9,300) rotate(-90)"><tspan x="63.00" y="0.00" textLength="41.87" lengthAdjust="spacingAndGlyphs">Pixel</tspan> <tspan x="109.50" y="0.00" textLength="49.86" lengthAdjust="spacingAndGlyphs">value</tspan> <tspan x="163.10" y="0.00" textLength="47.56" lengthAdjust="spacingAndGlyphs">(DN)</tspan></text>
<rect x="67.5" y="19.4" width="183.0" height="90.80000000000001" fill="#fff" stroke="#333" stroke-width="0.9"/>
<line x1="69.4" y1="31.3" x2="87.8" y2="31.3" stroke="#000" stroke-width="2" fill="none"/><text class="leg"><tspan x="90.30" y="37.70" textLength="24.97" lengthAdjust="spacingAndGlyphs">(a)</tspan> <tspan x="121.09" y="37.70" textLength="35.62" lengthAdjust="spacingAndGlyphs">CDS</tspan> <tspan x="162.53" y="37.70" textLength="27.70" lengthAdjust="spacingAndGlyphs">off,</tspan> <tspan x="196.05" y="37.70" textLength="23.46" lengthAdjust="spacingAndGlyphs">MF</tspan> <tspan x="225.33" y="37.70" textLength="21.68" lengthAdjust="spacingAndGlyphs">off</tspan></text>
<line x1="69.4" y1="53.6" x2="87.8" y2="53.6" stroke="#f00" stroke-dasharray="6.5 2.4 2.1 1.9" stroke-width="2" fill="none"/><text class="leg"><tspan x="90.30" y="60.10" textLength="25.62" lengthAdjust="spacingAndGlyphs">(b)</tspan> <tspan x="121.80" y="60.10" textLength="36.01" lengthAdjust="spacingAndGlyphs">CDS</tspan> <tspan x="163.69" y="60.10" textLength="28.00" lengthAdjust="spacingAndGlyphs">off,</tspan> <tspan x="197.57" y="60.10" textLength="23.71" lengthAdjust="spacingAndGlyphs">MF</tspan> <tspan x="227.17" y="60.10" textLength="20.74" lengthAdjust="spacingAndGlyphs">on</tspan></text>
<line x1="69.4" y1="76.3" x2="87.8" y2="76.3" stroke="#00e62e" stroke-dasharray="6.3 6" stroke-width="2" fill="none"/><text class="leg"><tspan x="90.30" y="83.30" textLength="23.90" lengthAdjust="spacingAndGlyphs">(c)</tspan> <tspan x="120.07" y="83.30" textLength="35.99" lengthAdjust="spacingAndGlyphs">CDS</tspan> <tspan x="161.94" y="83.30" textLength="26.81" lengthAdjust="spacingAndGlyphs">on,</tspan> <tspan x="194.63" y="83.30" textLength="23.70" lengthAdjust="spacingAndGlyphs">MF</tspan> <tspan x="224.21" y="83.30" textLength="21.90" lengthAdjust="spacingAndGlyphs">off</tspan></text>
<line x1="69.4" y1="99.3" x2="87.8" y2="99.3" stroke="#1a1aff" stroke-dasharray="1.6 1.4" stroke-dashoffset="-0.2" stroke-width="2" fill="none"/><text class="leg"><tspan x="90.30" y="106.10" textLength="25.73" lengthAdjust="spacingAndGlyphs">(d)</tspan> <tspan x="121.93" y="106.10" textLength="36.16" lengthAdjust="spacingAndGlyphs">CDS</tspan> <tspan x="164.00" y="106.10" textLength="26.94" lengthAdjust="spacingAndGlyphs">on,</tspan> <tspan x="196.84" y="106.10" textLength="23.81" lengthAdjust="spacingAndGlyphs">MF</tspan> <tspan x="226.56" y="106.10" textLength="20.83" lengthAdjust="spacingAndGlyphs">on</tspan></text>
</svg>
</body></html>
